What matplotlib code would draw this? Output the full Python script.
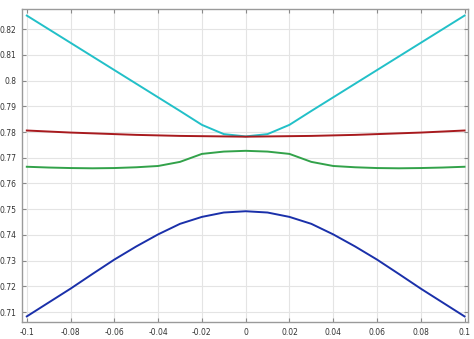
import numpy as np
import matplotlib.pyplot as plt

# x positions (parameter sweep)
x = [-0.1, -0.09, -0.08, -0.07, -0.06, -0.05, -0.04, -0.03, -0.02, -0.01, 0.0,
     0.01, 0.02, 0.03, 0.04, 0.05, 0.06, 0.07, 0.08, 0.09, 0.1]

# curves
cyan = [0.8253, 0.8200, 0.8147, 0.8094, 0.8041, 0.7988, 0.7935, 0.7882, 0.7828, 0.7792, 0.7783,
        0.7792, 0.7828, 0.7882, 0.7935, 0.7988, 0.8041, 0.8094, 0.8147, 0.8200, 0.8253]
red = [0.7806, 0.7802, 0.7798, 0.7795, 0.7792, 0.7789, 0.7787, 0.7785, 0.7784, 0.7783, 0.7782,
       0.7783, 0.7784, 0.7785, 0.7787, 0.7789, 0.7792, 0.7795, 0.7798, 0.7802, 0.7806]
green = [0.7665, 0.7662, 0.7660, 0.7659, 0.7660, 0.7663, 0.7668, 0.7684, 0.7715, 0.7724, 0.7727,
         0.7724, 0.7715, 0.7684, 0.7668, 0.7663, 0.7660, 0.7659, 0.7660, 0.7662, 0.7665]
blue = [0.7083, 0.7137, 0.7191, 0.7248, 0.7304, 0.7355, 0.7402, 0.7443, 0.7470, 0.7487, 0.7492,
        0.7487, 0.7470, 0.7443, 0.7402, 0.7355, 0.7304, 0.7248, 0.7191, 0.7137, 0.7083]

xticks = [-0.1, -0.08, -0.06, -0.04, -0.02, 0, 0.02, 0.04, 0.06, 0.08, 0.1]
xlabels = ['-0.1', '-0.08', '-0.06', '-0.04', '-0.02', '0', '0.02', '0.04', '0.06', '0.08', '0.1']
yticks = [0.71, 0.72, 0.73, 0.74, 0.75, 0.76, 0.77, 0.78, 0.79, 0.8, 0.81, 0.82]
ylabels = ['0.71', '0.72', '0.73', '0.74', '0.75', '0.76', '0.77', '0.78', '0.79', '0.8', '0.81', '0.82']

fig = plt.figure(figsize=(4.74, 3.39), dpi=100)
ax = fig.add_axes([0.0464, 0.050, 0.941, 0.923])

ax.plot(x, cyan, color='#22c0c8', lw=1.4)
ax.plot(x, red, color='#a81a1e', lw=1.4)
ax.plot(x, green, color='#32a24a', lw=1.4)
ax.plot(x, blue, color='#1a30aa', lw=1.4)

ax.set_xlim(-0.1022, 0.1016)
ax.set_ylim(0.7061, 0.8278)
ax.set_xticks(xticks)
ax.set_xticklabels(xlabels)
ax.set_yticks(yticks)
ax.set_yticklabels(ylabels)
ax.grid(True, color='#e4e4e4', lw=0.8)
ax.set_axisbelow(True)

for s in ax.spines.values():
    s.set_color('#9a9a9a')
    s.set_linewidth(1.0)
ax.tick_params(direction='in', length=3, color='#8a8a8a', labelsize=5.5,
               labelcolor='#333333', top=True, right=True)
ax.tick_params(axis='y', pad=4)
ax.tick_params(axis='x', pad=4)

fig.savefig('out.png', dpi=100)
